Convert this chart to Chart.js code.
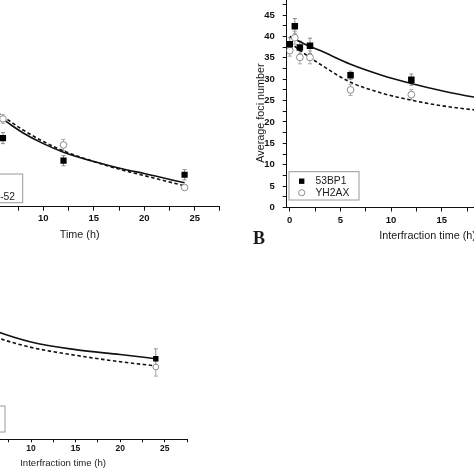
<!DOCTYPE html>
<html>
<head>
<meta charset="utf-8">
<script src="https://cdn.jsdelivr.net/npm/chart.js@4.4.0/dist/chart.umd.min.js"></script>
<style>
  html, body { margin: 0; padding: 0; background: #fff; }
  #page { position: relative; width: 474px; height: 474px; overflow: hidden; background: #fff; }
  #page canvas { position: absolute; }
  .lbl { position: absolute; white-space: nowrap; color: #1a1a1a; }
</style>
</head>
<body>
<div id="page">
  <canvas id="panelA" width="350" height="267" style="left:-120px;top:-20px;width:350px;height:267px"></canvas>
  <canvas id="panelB" width="340" height="268" style="left:236px;top:-20px;width:340px;height:268px"></canvas>
  <canvas id="panelC" width="320" height="237" style="left:-120px;top:237px;width:320px;height:237px"></canvas>
  <div class="lbl" style="left:260px;top:112.5px;transform:translate(-50%,-50%) rotate(-90deg);font:10.8px 'Liberation Sans'">Average foci number</div>
  <div class="lbl" style="left:259px;top:238px;transform:translate(-50%,-50%);font:bold 18px 'Liberation Serif'">B</div>
</div>
<script>
// shared ticks
const xTickLabels = [0, 5, 10, 15, 20, 25];
const yTickLabels = [0, 5, 10, 15, 20, 25, 30, 35, 40, 45];

// panel A - time after dose
const timeA = [6, 12, 24];
const bp1A = [16.1, 10.8, 7.5];
const bp1ErrA = [1.3, 1.2, 1.2];
const h2axA = [20.6, 14.5, 4.5];
const h2axErrA = [1.0, 1.3, 0.5];
const fitTimeA = [4, 6, 8, 10, 12, 15, 18, 20, 24];
const bp1FitA = [23.5, 20.5, 17.3, 14.8, 12.8, 10.6, 8.8, 7.8, 5.6];
const h2axFitA = [24.5, 21.2, 18.0, 15.3, 13.1, 10.6, 8.5, 7.3, 4.9];
const legendA = ['53BP1', 'YH2AX-52'];

// panel B - interfraction time
const timeB = [0, 0.5, 1, 2, 6, 12];
const bp1B = [38.2, 42.4, 37.4, 37.8, 30.9, 29.9];
const bp1ErrB = [1.5, 1.8, 1.5, 1.8, 1.0, 1.3];
const h2axB = [36.7, 39.7, 35.1, 35.1, 27.5, 26.4];
const h2axErrB = [1.3, 1.5, 1.5, 1.5, 1.3, 1.2];
const fitTimeB = [0, 1.5, 3, 6, 9, 12, 15, 18, 21, 24];
const bp1FitB = [40.0, 38.2, 36.7, 33.5, 31.0, 29.0, 27.3, 25.9, 25.0, 24.3];
const h2axFitB = [38.6, 35.9, 33.5, 29.3, 26.8, 25.1, 23.8, 22.9, 22.3, 21.9];
const legendB = ['53BP1', 'YH2AX'];

// panel C - interfraction time
const timeC = [24];
const bp1C = [21.3];
const bp1ErrC = [2.6];
const h2axC = [19.1];
const h2axErrC = [2.4];
const fitTimeC = [0, 3, 6, 10, 15, 20, 24];
const bp1FitC = [36.0, 31.5, 28.6, 25.7, 23.7, 22.4, 21.3];
const h2axFitC = [34.0, 29.8, 27.0, 24.3, 22.2, 20.5, 19.4];
const legendC = ['53BP1', 'YH2AX'];

function pairs(xs, ys) {
  return xs.map((x, i) => ({ x: x, y: ys[i] }));
}

// vertical error bars with caps, under the markers
const errorBars = {
  id: 'errorBars',
  beforeDatasetsDraw(chart) {
    const ctx = chart.ctx;
    const xs = chart.scales.x, ys = chart.scales.y;
    chart.data.datasets.forEach(ds => {
      if (!ds.errors) return;
      ctx.save();
      ctx.strokeStyle = ds.errorColor;
      ctx.lineWidth = 1;
      ds.data.forEach((p, i) => {
        const px = xs.getPixelForValue(p.x);
        const top = ys.getPixelForValue(p.y + ds.errors[i]);
        const bot = ys.getPixelForValue(p.y - ds.errors[i]);
        ctx.beginPath();
        ctx.moveTo(px, top); ctx.lineTo(px, bot);
        ctx.moveTo(px - 2, top); ctx.lineTo(px + 2, top);
        ctx.moveTo(px - 2, bot); ctx.lineTo(px + 2, bot);
        ctx.stroke();
      });
      ctx.restore();
    });
  }
};

// framed legend sitting in the lower left of the plot
const boxLegend = {
  id: 'boxLegend',
  afterDraw(chart, args, o) {
    if (!o.labels) return;
    const ctx = chart.ctx;
    const a = chart.chartArea;
    const left = a.left + o.left;
    const top = a.bottom - o.bottom - o.height;
    ctx.save();
    ctx.strokeStyle = '#9a9a9a';
    ctx.lineWidth = 1;
    ctx.strokeRect(left, top, o.width, o.height);
    const markers = chart.data.datasets.slice(0, 2);
    o.labels.forEach((txt, i) => {
      const y = top + o.rows[i];
      const ds = markers[i];
      ctx.fillStyle = ds.backgroundColor;
      ctx.strokeStyle = ds.borderColor;
      ctx.lineWidth = ds.borderWidth;
      Chart.helpers.drawPoint(ctx, {
        pointStyle: ds.pointStyle, radius: o.markerR[i], rotation: 0,
        borderWidth: ds.borderWidth
      }, left + o.markerX, y);
      ctx.fillStyle = '#1a1a1a';
      ctx.font = o.fontSize + "px 'Liberation Sans'";
      ctx.textBaseline = 'middle';
      ctx.textAlign = 'left';
      ctx.fillText(txt, left + o.textX, y);
    });
    ctx.restore();
  }
};

function panel(id, p) {
  return new Chart(document.getElementById(id), {
    type: 'scatter',
    data: {
      datasets: [
        {
          data: pairs(p.time, p.bp1), errors: p.bp1Err, errorColor: '#8c8c8c',
          pointStyle: 'rect', pointRadius: p.rectR, backgroundColor: '#000',
          borderColor: '#000', borderWidth: 0, showLine: false
        },
        {
          data: pairs(p.time, p.h2ax), errors: p.h2axErr, errorColor: '#a8a8a8',
          pointStyle: 'circle', pointRadius: p.circR, backgroundColor: '#fff',
          borderColor: '#8c8c8c', borderWidth: 1, showLine: false
        },
        {
          type: 'line', data: pairs(p.fitTime, p.bp1Fit), borderColor: '#111',
          borderWidth: 1.6, pointRadius: 0, cubicInterpolationMode: 'monotone', fill: false
        },
        {
          type: 'line', data: pairs(p.fitTime, p.h2axFit), borderColor: '#111',
          borderWidth: 1.6, borderDash: [3.5, 2.5], pointRadius: 0,
          cubicInterpolationMode: 'monotone', fill: false
        }
      ]
    },
    options: {
      responsive: false,
      animation: false,
      events: [],
      layout: { padding: { left: 0, top: p.padTop, right: p.padRight, bottom: 0 } },
      plugins: {
        legend: { display: false },
        tooltip: { enabled: false },
        boxLegend: p.legend
      },
      scales: {
        x: {
          type: 'linear', position: 'bottom', min: -0.3, max: 27.5,
          afterFit: s => { s.height = p.xAxisH; },
          border: { display: true, color: '#111', width: 1 },
          grid: { drawOnChartArea: false, drawTicks: true, tickLength: p.tickLen, tickColor: '#111' },
          ticks: {
            stepSize: 2.5, includeBounds: false, autoSkip: false, maxRotation: 0,
            padding: p.tickPad, color: '#111',
            font: { family: 'Liberation Sans', weight: 'bold', size: p.tickSize },
            callback: v => xTickLabels.includes(v) ? String(v) : ''
          },
          title: {
            display: true, text: p.xTitle, color: '#1a1a1a',
            font: { family: 'Liberation Sans', size: p.titleSize },
            padding: { top: 0, bottom: p.titlePad }
          }
        },
        y: {
          type: 'linear', min: 0, max: 50,
          afterFit: s => { s.width = p.yAxisW; },
          border: { display: true, color: '#111', width: 1 },
          grid: { drawOnChartArea: false, drawTicks: true, tickLength: 4, tickColor: '#111' },
          ticks: {
            stepSize: 2.5, autoSkip: false, padding: 8, color: '#111',
            font: { family: 'Liberation Sans', weight: 'bold', size: p.tickSize },
            callback: v => yTickLabels.includes(v) ? String(v) : ''
          }
        }
      }
    },
    plugins: [errorBars, boxLegend]
  });
}

panel('panelA', {
  time: timeA, bp1: bp1A, bp1Err: bp1ErrA, h2ax: h2axA, h2axErr: h2axErrA,
  fitTime: fitTimeA, bp1Fit: bp1FitA, h2axFit: h2axFitA,
  rectR: 4.4, circR: 3.3, padTop: 9.7, padRight: 10.1, yAxisW: 59.4, xAxisH: 40.3,
  tickLen: 4, tickPad: 2, tickSize: 9.5, titleSize: 10.8, titlePad: 5.5, xTitle: 'Time (h)',
  legend: { labels: legendA, left: 4, bottom: 4, width: 79.3, height: 28.7,
            rows: [11, 22.7], markerX: 10, markerR: [3.8, 3.1], textX: 23, fontSize: 10.3 }
});

panel('panelB', {
  time: timeB, bp1: bp1B, bp1Err: bp1ErrB, h2ax: h2axB, h2axErr: h2axErrB,
  fitTime: fitTimeB, bp1Fit: bp1FitB, h2axFit: h2axFitB,
  rectR: 4.6, circR: 3.4, padTop: 10.5, padRight: 7.6, yAxisW: 50.7, xAxisH: 40.5,
  tickLen: 4, tickPad: 3, tickSize: 9.5, titleSize: 10.8, titlePad: 5.5, xTitle: 'Interfraction time (h)',
  legend: { labels: legendB, left: 2.3, bottom: 7.5, width: 70, height: 28.3,
            rows: [9.5, 21], markerX: 12.7, markerR: [3.8, 3.1], textX: 26.5, fontSize: 10.3 }
});

panel('panelC', {
  time: timeC, bp1: bp1C, bp1Err: bp1ErrC, h2ax: h2axC, h2axErr: h2axErrC,
  fitTime: fitTimeC, bp1Fit: bp1FitC, h2axFit: h2axFitC,
  rectR: 3.8, circR: 2.9, padTop: 11.3, padRight: 13, yAxisW: 59.2, xAxisH: 34.7,
  tickLen: 3, tickPad: 1, tickSize: 8.5, titleSize: 9.6, titlePad: 4.5, xTitle: 'Interfraction time (h)',
  legend: { labels: legendC, left: 2.8, bottom: 7.3, width: 63, height: 26,
            rows: [8.5, 19], markerX: 10, markerR: [3.3, 2.8], textX: 22, fontSize: 9.5 }
});
</script>
</body>
</html>
